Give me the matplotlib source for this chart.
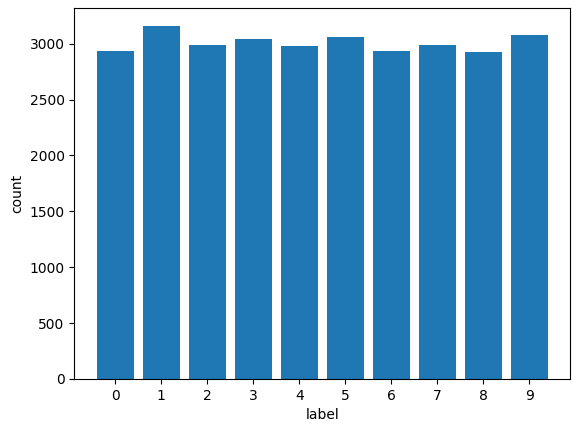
import matplotlib
matplotlib.use("Agg")
import matplotlib.pyplot as plt

labels = [0, 1, 2, 3, 4, 5, 6, 7, 8, 9]
counts = [2935, 3160, 2990, 3040, 2980, 3060, 2935, 2990, 2925, 3080]

fig = plt.figure(figsize=(5.8, 4.32), dpi=100)
ax = fig.add_axes([0.128, 0.123, 0.855, 0.858])
ax.bar(labels, counts)
ax.set_xticks(labels)
ax.set_xlabel("label")
ax.set_ylabel("count")
fig.savefig("out.png")
